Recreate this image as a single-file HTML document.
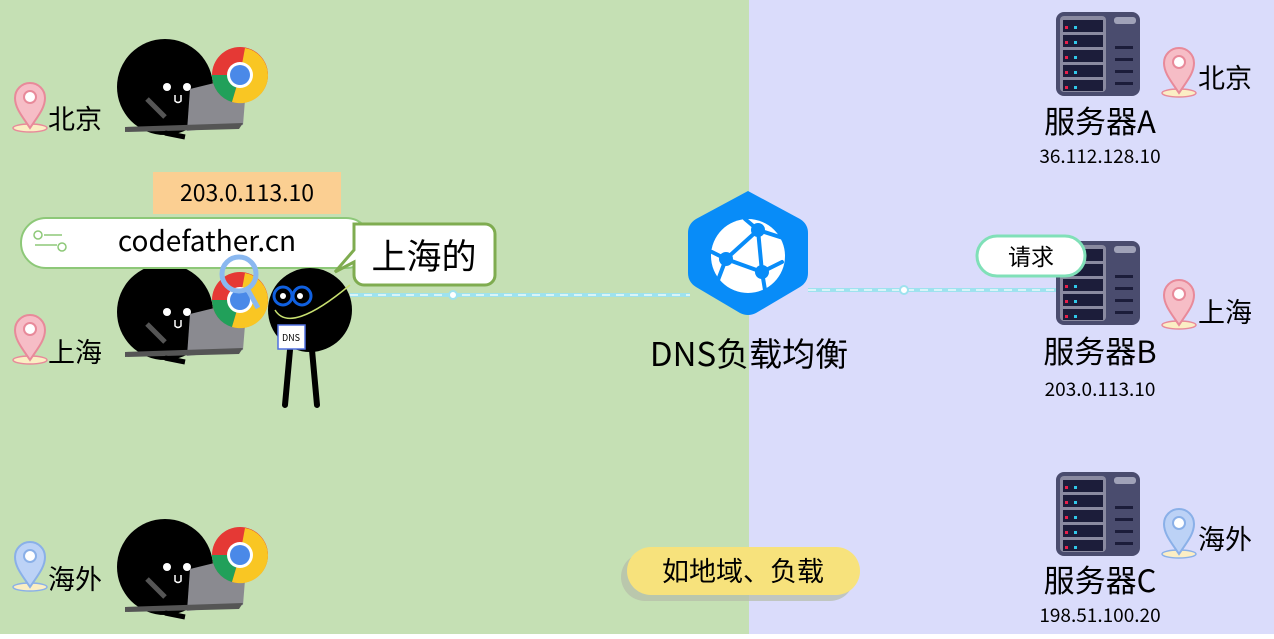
<!DOCTYPE html>
<html><head><meta charset="utf-8"><style>
body{margin:0;width:1274px;height:634px;overflow:hidden;font-family:"Noto Sans CJK SC","Liberation Sans",sans-serif}
svg text{font-family:"Noto Sans CJK SC","Liberation Sans",sans-serif}
</style></head><body>
<svg width="1274" height="634" xmlns="http://www.w3.org/2000/svg">
<defs>
<g id="person">
 <circle cx="0" cy="0" r="48" fill="#000"/>
 <circle cx="2" cy="0" r="4" fill="#fff"/><circle cx="22" cy="0" r="4" fill="#fff"/>
 <path d="M10 8 v6 q3 3 6 0 v-6" stroke="#fff" stroke-width="1.5" fill="none"/>
 <path d="M-18 12 l18 18" stroke="#555" stroke-width="5"/>
 <path d="M25 2 L82 -12 L78 38 L22 44 Z" fill="#8a8a90"/>
 <path d="M-40 40 L78 36 L74 42 L-40 45 Z" fill="#555"/>
 <path d="M0 46 l20 4" stroke="#000" stroke-width="5"/>
 <g transform="translate(75,-12)">
  <circle r="28" fill="#e53935"/>
  <path d="M0 0 L-28 0 A28 28 0 0 0 -8 27 Z" fill="#21a05a"/>
  <path d="M0 0 L-8 27 A28 28 0 0 0 28 0 Z" fill="#f9c623"/>
  <path d="M0 0 L28 0 A28 28 0 0 0 5 -27 Z" fill="#f9c623"/>
  <circle r="13" fill="#fff"/><circle r="10" fill="#4a89e8"/>
 </g>
</g>
<g id="pin">
 <ellipse cx="0" cy="28" rx="17" ry="4" fill="#fbeec4" stroke="#e88a9a" stroke-width="1.5"/>
 <path d="M0 28 C-8 16 -15 8 -15 -2 A15 15 0 0 1 15 -2 C15 8 8 16 0 28Z" fill="#f6bdc6" stroke="#e88a9a" stroke-width="2"/>
 <circle cx="0" cy="-3" r="6" fill="#fff" stroke="#e88a9a" stroke-width="2"/>
</g>
<g id="pinb">
 <ellipse cx="0" cy="28" rx="17" ry="4" fill="#fbeec4" stroke="#8ab0e8" stroke-width="1.5"/>
 <path d="M0 28 C-8 16 -15 8 -15 -2 A15 15 0 0 1 15 -2 C15 8 8 16 0 28Z" fill="#bcd2f6" stroke="#8ab0e8" stroke-width="2"/>
 <circle cx="0" cy="-3" r="6" fill="#fff" stroke="#8ab0e8" stroke-width="2"/>
</g>
<g id="server">
 <rect x="0" y="0" width="84" height="84" rx="8" fill="#4a4c6e"/>
 <rect x="4" y="4" width="46" height="76" rx="4" fill="#8a8aa0"/>
 <g fill="#1c1d3a">
  <rect x="7" y="8" width="40" height="12"/><rect x="7" y="23" width="40" height="12"/><rect x="7" y="38" width="40" height="12"/><rect x="7" y="53" width="40" height="12"/><rect x="7" y="68" width="40" height="11"/>
 </g>
 <g fill="#e8204a"><rect x="9" y="14" width="3" height="3"/><rect x="9" y="29" width="3" height="3"/><rect x="9" y="44" width="3" height="3"/><rect x="9" y="59" width="3" height="3"/><rect x="9" y="74" width="3" height="3"/></g>
 <g fill="#30c8e8"><rect x="18" y="14" width="3" height="3"/><rect x="18" y="29" width="3" height="3"/><rect x="18" y="44" width="3" height="3"/><rect x="18" y="59" width="3" height="3"/><rect x="18" y="74" width="3" height="3"/></g>
 <rect x="58" y="5" width="22" height="7" rx="3" fill="#a0a2b8"/>
 <g fill="#1c1d3a"><rect x="59" y="34" width="18" height="3"/><rect x="59" y="46" width="18" height="3"/><rect x="59" y="58" width="18" height="3"/><rect x="59" y="70" width="18" height="3"/></g>
</g>
</defs>
<rect x="0" y="0" width="749" height="634" fill="#c5e0b4"/>
<rect x="749" y="0" width="525" height="634" fill="#dadcfb"/>

<line x1="350" y1="295" x2="690" y2="295" stroke="#9ee2ee" stroke-width="4"/>
<line x1="350" y1="295" x2="690" y2="295" stroke="#fff" stroke-width="1.2" stroke-dasharray="8 6"/>
<line x1="808" y1="290" x2="1060" y2="290" stroke="#9ee2ee" stroke-width="4"/>
<line x1="808" y1="290" x2="1060" y2="290" stroke="#fff" stroke-width="1.2" stroke-dasharray="8 6"/>
<circle cx="453" cy="295" r="4" fill="#fff" stroke="#9ee2ee" stroke-width="2"/>
<circle cx="904" cy="290" r="4" fill="#fff" stroke="#9ee2ee" stroke-width="2"/>

<use href="#person" x="165" y="87"/>
<use href="#person" x="165" y="312"/>
<use href="#person" x="165" y="567"/>
<use href="#pin" x="30" y="100"/>
<use href="#pin" x="30" y="332"/>
<use href="#pinb" x="30" y="559"/>
<text x="48" y="129" font-size="27">北京</text>
<text x="48" y="362" font-size="27">上海</text>
<text x="48" y="589" font-size="27">海外</text>

<rect x="153" y="172" width="188" height="42" fill="#fbcf92"/>
<text x="247" y="201" font-size="23" text-anchor="middle">203.0.113.10</text>
<rect x="21" y="218" width="350" height="50" rx="25" fill="#fff" stroke="#8dc878" stroke-width="2"/>
<circle cx="38" cy="235" r="4" fill="none" stroke="#8dc878" stroke-width="1.5"/>
<line x1="44" y1="235" x2="62" y2="235" stroke="#8dc878" stroke-width="1.5"/>
<line x1="35" y1="245" x2="57" y2="245" stroke="#8dc878" stroke-width="1.5"/>
<circle cx="62" cy="247" r="4" fill="none" stroke="#8dc878" stroke-width="1.5"/>
<text x="207" y="251" font-size="28" text-anchor="middle">codefather.cn</text>

<circle cx="239" cy="274" r="17" fill="none" stroke="#8ab8f0" stroke-width="5"/>
<line x1="248" y1="290" x2="258" y2="308" stroke="#8ab8f0" stroke-width="5"/>
<circle cx="310" cy="310" r="42" fill="#000"/>
<path d="M290 350 l-5 55 M312 350 l5 55" stroke="#000" stroke-width="6" stroke-linecap="round"/>
<circle cx="283" cy="296" r="9" fill="none" stroke="#1060e0" stroke-width="3"/>
<circle cx="302" cy="296" r="9" fill="none" stroke="#1060e0" stroke-width="3"/>
<circle cx="283" cy="296" r="3" fill="#fff"/><circle cx="300" cy="296" r="3" fill="#fff"/>
<path d="M275 310 Q290 335 350 285" stroke="#c8e070" stroke-width="1.5" fill="none"/>
<rect x="278" y="325" width="27" height="24" fill="#fff" stroke="#5070e0" stroke-width="1.5"/>
<text x="291" y="341" font-size="9" text-anchor="middle">DNS</text>
<path d="M354 224 H485 a10 10 0 0 1 10 10 V275 a10 10 0 0 1 -10 10 H364 a10 10 0 0 1 -10 -10 V262 L335 272 L354 250 Z" fill="#fff" stroke="#7fac50" stroke-width="3"/>
<text x="424" y="269" font-size="35" text-anchor="middle">上海的</text>

<path d="M748 191 L800 219 Q808 224 808 233 V273 Q808 282 800 287 L756 313 Q748 317 740 313 L696 287 Q688 282 688 273 V233 Q688 224 696 219 Z" fill="#088cf8"/>
<circle cx="748" cy="256" r="37" fill="#fff"/>
<g stroke="#088cf8" stroke-width="4" fill="none" stroke-linecap="round">
 <path d="M726 259 L758 230 L762 272 Z"/>
 <path d="M712 252 L726 259 M758 230 L745 219 M762 272 L765 290 M762 272 L782 262 M758 230 L783 238 M726 259 L718 280"/>
</g>
<circle cx="726" cy="259" r="7" fill="#088cf8"/><circle cx="758" cy="230" r="7" fill="#088cf8"/><circle cx="762" cy="272" r="7" fill="#088cf8"/>
<text x="749" y="366" font-size="33" text-anchor="middle">DNS负载均衡</text>

<use href="#server" x="1056" y="12"/>
<use href="#server" x="1056" y="241"/>
<use href="#server" x="1056" y="472"/>
<use href="#pin" x="1179" y="65"/>
<use href="#pin" x="1179" y="297"/>
<use href="#pinb" x="1179" y="526"/>
<text x="1198" y="88" font-size="27">北京</text>
<text x="1198" y="322" font-size="27">上海</text>
<text x="1198" y="549" font-size="27">海外</text>
<text x="1100" y="133" font-size="31" text-anchor="middle">服务器A</text>
<text x="1100" y="163" font-size="19" text-anchor="middle">36.112.128.10</text>
<text x="1100" y="363" font-size="31" text-anchor="middle">服务器B</text>
<text x="1100" y="396" font-size="19" text-anchor="middle">203.0.113.10</text>
<text x="1100" y="592" font-size="31" text-anchor="middle">服务器C</text>
<text x="1100" y="622" font-size="19" text-anchor="middle">198.51.100.20</text>

<rect x="977" y="236" width="108" height="40" rx="20" fill="#fff" stroke="#80e0b8" stroke-width="3"/>
<text x="1031" y="265" font-size="23" text-anchor="middle">请求</text>

<rect x="621" y="553" width="233" height="48" rx="24" fill="#b5bca8" opacity="0.7"/>
<rect x="627" y="547" width="233" height="48" rx="24" fill="#f7e27c"/>
<text x="743" y="581" font-size="27" text-anchor="middle">如地域、负载</text>
</svg>
</body></html>
